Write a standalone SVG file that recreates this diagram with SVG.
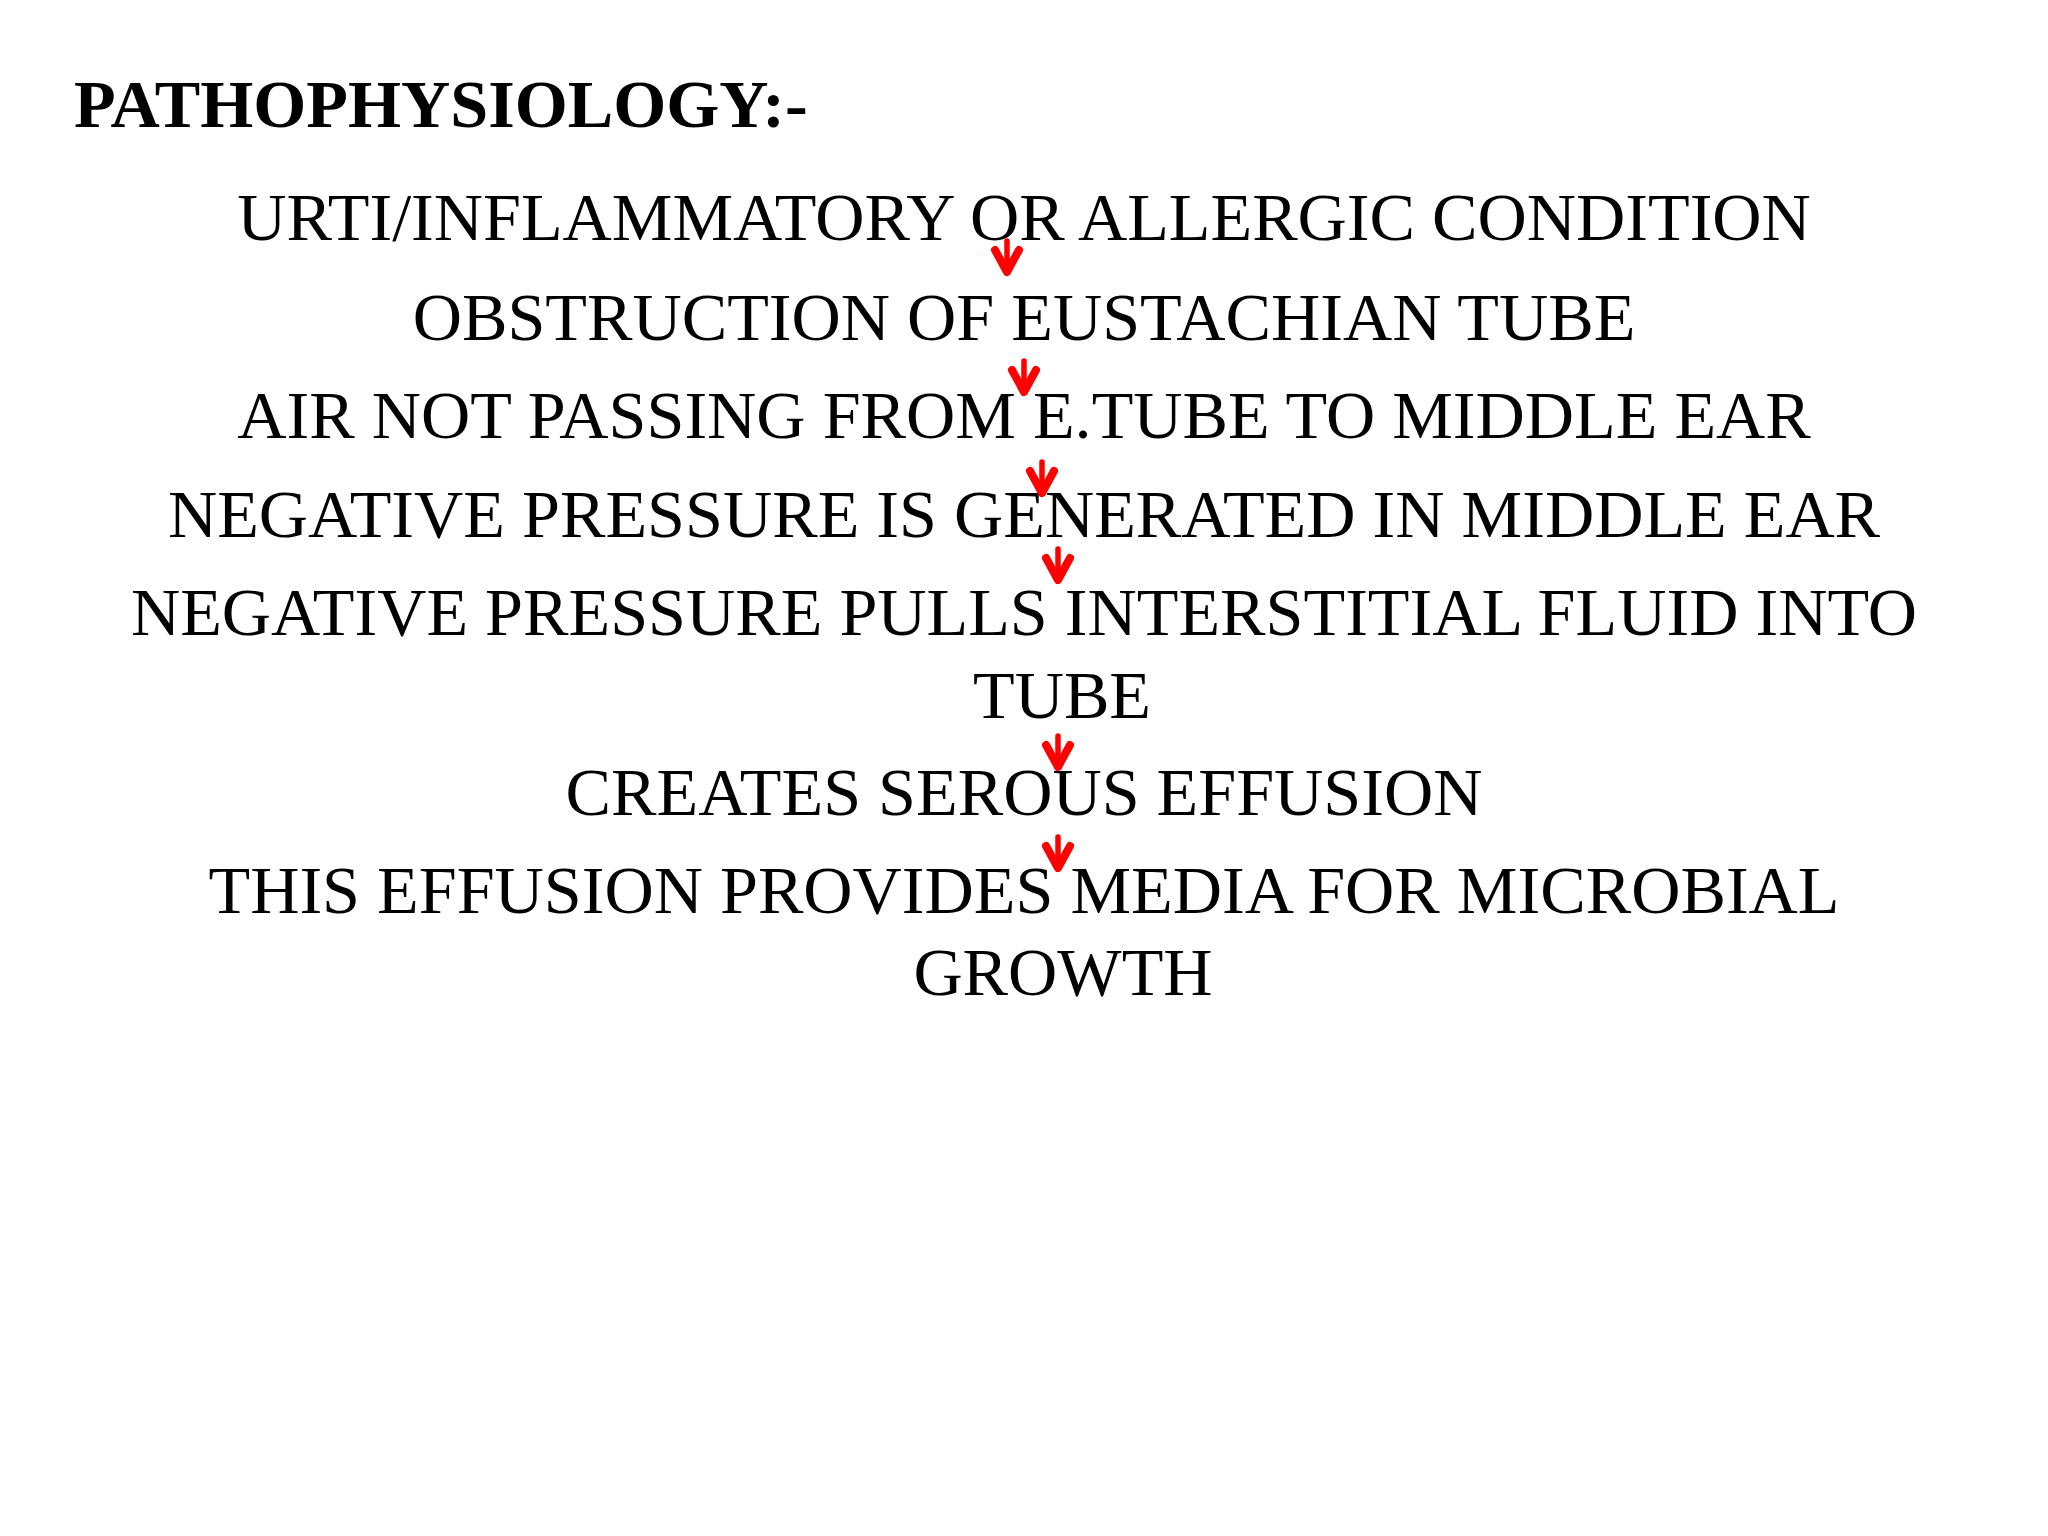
<svg xmlns="http://www.w3.org/2000/svg" xmlns:xlink="http://www.w3.org/1999/xlink" width="2048" height="1536" viewBox="0 0 2048 1536">
<style>
.t{font-family:"Liberation Serif","Times New Roman",serif;font-size:68.2px;fill:#000;text-anchor:middle}
.h{font-family:"Liberation Serif","Times New Roman",serif;font-size:68.2px;font-weight:bold;fill:#000}
.ar{fill:none;stroke:#ff0000;stroke-linecap:round;stroke-linejoin:round}
</style>
<defs>
<g id="arrow">
<line class="ar" x1="0" y1="0" x2="0" y2="30" stroke-width="5.5"/>
<polyline class="ar" points="-12,9 0,31 12,9" stroke-width="8"/>
</g>
</defs>
<rect width="2048" height="1536" fill="#fff"/>
<g id="title"><text class="h" x="74" y="127">PATHOPHYSIOLOGY:-</text></g>
<g id="n1"><text class="t" x="1024" y="240">URTI/INFLAMMATORY OR ALLERGIC CONDITION</text></g>
<g id="n2"><text class="t" x="1024" y="340">OBSTRUCTION OF EUSTACHIAN TUBE</text></g>
<g id="n3"><text class="t" x="1024" y="438">AIR NOT PASSING FROM E.TUBE TO MIDDLE EAR</text></g>
<g id="n4"><text class="t" x="1024" y="537">NEGATIVE PRESSURE IS GENERATED IN MIDDLE EAR</text></g>
<g id="n5"><text class="t" x="1024" y="635">NEGATIVE PRESSURE PULLS INTERSTITIAL FLUID INTO</text><text class="t" x="1062" y="718">TUBE</text></g>
<g id="n6"><text class="t" x="1024" y="815">CREATES SEROUS EFFUSION</text></g>
<g id="n7"><text class="t" x="1024" y="913">THIS EFFUSION PROVIDES MEDIA FOR MICROBIAL</text><text class="t" x="1063" y="995">GROWTH</text></g>
<g id="connectors">
<use xlink:href="#arrow" x="1007" y="241"/>
<use xlink:href="#arrow" x="1024" y="361"/>
<use xlink:href="#arrow" x="1042" y="462"/>
<use xlink:href="#arrow" x="1058" y="549"/>
<use xlink:href="#arrow" x="1058" y="736"/>
<use xlink:href="#arrow" x="1058" y="837"/>
</g>
</svg>
